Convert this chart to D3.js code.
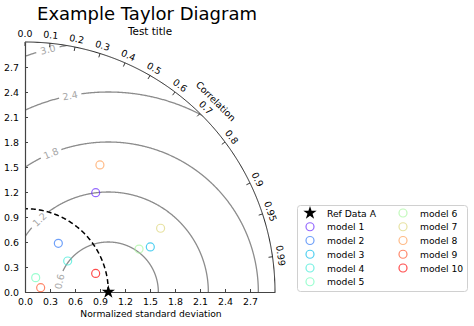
<!DOCTYPE html>
<html><head><meta charset="utf-8">
<script src="https://cdn.jsdelivr.net/npm/d3@7"></script>
<style>body{margin:0;background:#fff} svg{display:block;font-family:"DejaVu Sans",sans-serif}</style>
</head><body><svg id="c" width="474" height="326"></svg>
<script>
// ---- data ----
const models = ["model 1","model 2","model 3","model 4","model 5","model 6","model 7","model 8","model 9","model 10"];
const modelStd  = [1.463, 0.708, 1.598, 0.633, 0.215, 1.462, 1.798, 1.770, 0.195, 0.877];
const modelCorr = [0.580, 0.565, 0.941, 0.809, 0.597, 0.936, 0.905, 0.508, 0.964, 0.967];
const refLabel = "Ref Data A";
const refStd = 1.0;
const stdTicks = [0.0,0.3,0.6,0.9,1.2,1.5,1.8,2.1,2.4,2.7];
const stdTickLabels = ["0.0","0.3","0.6","0.9","1.2","1.5","1.8","2.1","2.4","2.7"];
const corrTicks = [0.0,0.1,0.2,0.3,0.4,0.5,0.6,0.7,0.8,0.9,0.95,0.99];
const corrTickLabels = ["0.0","0.1","0.2","0.3","0.4","0.5","0.6","0.7","0.8","0.9","0.95","0.99"];
const rmsLevels = [0.6,1.2,1.8,2.4,3.0];
const rmsLevelLabels = ["0.6","1.2","1.8","2.4","3.0"];
const stdMax = 3.0;

// ---- layout ----
const svg = d3.select("#c");
const O = {x:25, y:292};
const R = 250;
const r = d3.scaleLinear().domain([0, stdMax]).range([0, R]);
const xS = d3.scaleLinear().domain([0, stdMax]).range([O.x, O.x + R]);
const yS = d3.scaleLinear().domain([0, stdMax]).range([O.y, O.y - R]);
const rmsLabelAngles = [168, 133.5, 112.5, 101, 104];

function rainbow(x){
  const cl = v => Math.max(0, Math.min(1, v));
  return d3.rgb(255*cl(Math.abs(2*x-0.5)), 255*cl(Math.sin(Math.PI*x)), 255*cl(Math.cos(Math.PI*x/2)));
}
const colors = models.map((m,i)=> rainbow(0.05 + 0.95*i/(models.length-1)).formatHex());

// title
svg.append("text").attr("x",147).attr("y",20).attr("text-anchor","middle")
  .attr("font-size",18).attr("fill","#000").text("Example Taylor Diagram");
svg.append("text").attr("x",150).attr("y",34.5).attr("text-anchor","middle")
  .attr("font-size",10.4).attr("fill","#000").text("Test title");

// clip to quarter disc
const defs = svg.append("defs");
defs.append("clipPath").attr("id","q").append("path")
  .attr("d", `M${xS(0)},${yS(0)} L${xS(stdMax)},${yS(0)} A${R},${R} 0 0 0 ${xS(0)},${yS(stdMax)} Z`);

// RMS contours
const gC = svg.append("g").attr("clip-path","url(#q)");
const line = d3.line().defined(d=>d.ok).x(d=>xS(d.x)).y(d=>yS(d.y));
rmsLevels.forEach((c,i)=>{
  const la = rmsLabelAngles[i]*Math.PI/180;
  const half = 11 / r(c);
  const pts = d3.range(0, 721).map(k=>{
    const a = Math.PI*k/720;
    return {x: refStd + c*Math.cos(a), y: c*Math.sin(a), ok: Math.abs(a-la) > half};
  });
  gC.append("path").attr("d", line(pts)).attr("fill","none")
    .attr("stroke","#8c8c8c").attr("stroke-width",1.3);
});
rmsLevels.forEach((c,i)=>{
  const la = rmsLabelAngles[i]*Math.PI/180;
  const px = xS(refStd + c*Math.cos(la)), py = yS(c*Math.sin(la));
  const rot = -(rmsLabelAngles[i]-90);
  svg.append("text").attr("transform",`translate(${px},${py}) rotate(${rot})`)
    .attr("text-anchor","middle").attr("dominant-baseline","central")
    .attr("font-size",9.6).attr("fill","#a6a6a6").text(rmsLevelLabels[i]);
});

// reference std dashed arc
const arcPts = d3.range(0, 181).map(k=>{const a=Math.PI/2*k/180; return {x:refStd*Math.cos(a), y:refStd*Math.sin(a), ok:true};});
svg.append("path").attr("d", line(arcPts)).attr("fill","none").attr("stroke","#000")
  .attr("stroke-width",1.5).attr("stroke-dasharray","5,3");

// outer arc
const outPts = d3.range(0, 361).map(k=>{const a=Math.PI/2*k/360; return {x:stdMax*Math.cos(a), y:stdMax*Math.sin(a), ok:true};});
svg.append("path").attr("d", line(outPts)).attr("fill","none").attr("stroke","#222").attr("stroke-width",1);

// correlation ticks & labels
corrTicks.forEach((c,i)=>{
  const a = Math.acos(c);
  const ca = Math.cos(a), sa = Math.sin(a);
  svg.append("line").attr("x1",O.x+R*ca).attr("y1",O.y-R*sa)
    .attr("x2",O.x+(R-4)*ca).attr("y2",O.y-(R-4)*sa).attr("stroke","#222").attr("stroke-width",0.9);
  const lr = R + 8.5;
  svg.append("text").attr("transform",`translate(${O.x+lr*ca},${O.y-lr*sa}) rotate(${90-a*180/Math.PI})`)
    .attr("text-anchor","middle").attr("dominant-baseline","central")
    .attr("font-size",9.4).attr("fill","#000").text(corrTickLabels[i]);
});
{
  const a = Math.PI/4, lr = R + 20;
  svg.append("text").attr("transform",`translate(${O.x+lr*Math.cos(a)},${O.y-lr*Math.sin(a)}) rotate(45)`)
    .attr("text-anchor","middle").attr("dominant-baseline","central")
    .attr("font-size",9.4).attr("fill","#000").text("Correlation");
}

// axes
const xAxis = d3.axisBottom(xS).tickValues(stdTicks).tickFormat((d,i)=>stdTickLabels[i]).tickSizeInner(-3).tickSizeOuter(0).tickPadding(6);
const yAxis = d3.axisLeft(yS).tickValues(stdTicks).tickFormat((d,i)=>stdTickLabels[i]).tickSizeInner(-3).tickSizeOuter(0).tickPadding(6);
const gx = svg.append("g").attr("transform",`translate(0,${O.y})`).call(xAxis);
const gy = svg.append("g").attr("transform",`translate(${O.x},0)`).call(yAxis);
[gx,gy].forEach(g=>{
  g.select(".domain").attr("stroke","#444").attr("stroke-width",1.2);
  g.selectAll(".tick line").attr("stroke","#444");
  g.selectAll("text").attr("font-family","DejaVu Sans").attr("font-size",9.4).attr("fill","#000");
});
svg.append("text").attr("x",151).attr("y",317).attr("text-anchor","middle")
  .attr("font-size",9.2).attr("fill","#000").text("Normalized standard deviation");

// model points
models.forEach((m,i)=>{
  const a = Math.acos(modelCorr[i]);
  svg.append("circle").attr("cx", xS(modelStd[i]*Math.cos(a))).attr("cy", yS(modelStd[i]*Math.sin(a)))
    .attr("r",4).attr("fill","none").attr("stroke",colors[i]).attr("stroke-opacity",0.7).attr("stroke-width",1.2);
});
// reference star
svg.append("path").attr("d", d3.symbol(d3.symbolStar).size(55)())
  .attr("transform",`translate(${xS(refStd)},${yS(0)})`).attr("fill","#000");

// legend
const L = svg.append("g");
L.append("rect").attr("x",297.5).attr("y",205.5).attr("width",170).attr("height",86).attr("rx",3)
  .attr("fill","#fff").attr("stroke","#d0d0d0").attr("stroke-width",1);
const entries = [{label:refLabel, ref:true}].concat(models.map((m,i)=>({label:m, color:colors[i]})));
entries.forEach((e,k)=>{
  const col = k < 6 ? 0 : 1, row = k < 6 ? k : k-6;
  const mx = col ? 403 : 310, ty = 213 + row*13.75;
  if (e.ref) {
    L.append("path").attr("d", d3.symbol(d3.symbolStar).size(55)()).attr("transform",`translate(${mx},${ty})`).attr("fill","#000");
  } else {
    L.append("circle").attr("cx",mx).attr("cy",ty).attr("r",4).attr("fill","none")
      .attr("stroke",e.color).attr("stroke-opacity",0.7).attr("stroke-width",1.2);
  }
  L.append("text").attr("x",mx+17).attr("y",ty).attr("dominant-baseline","central")
    .attr("font-size",9.2).attr("fill","#000").text(e.label);
});
</script></body></html>
